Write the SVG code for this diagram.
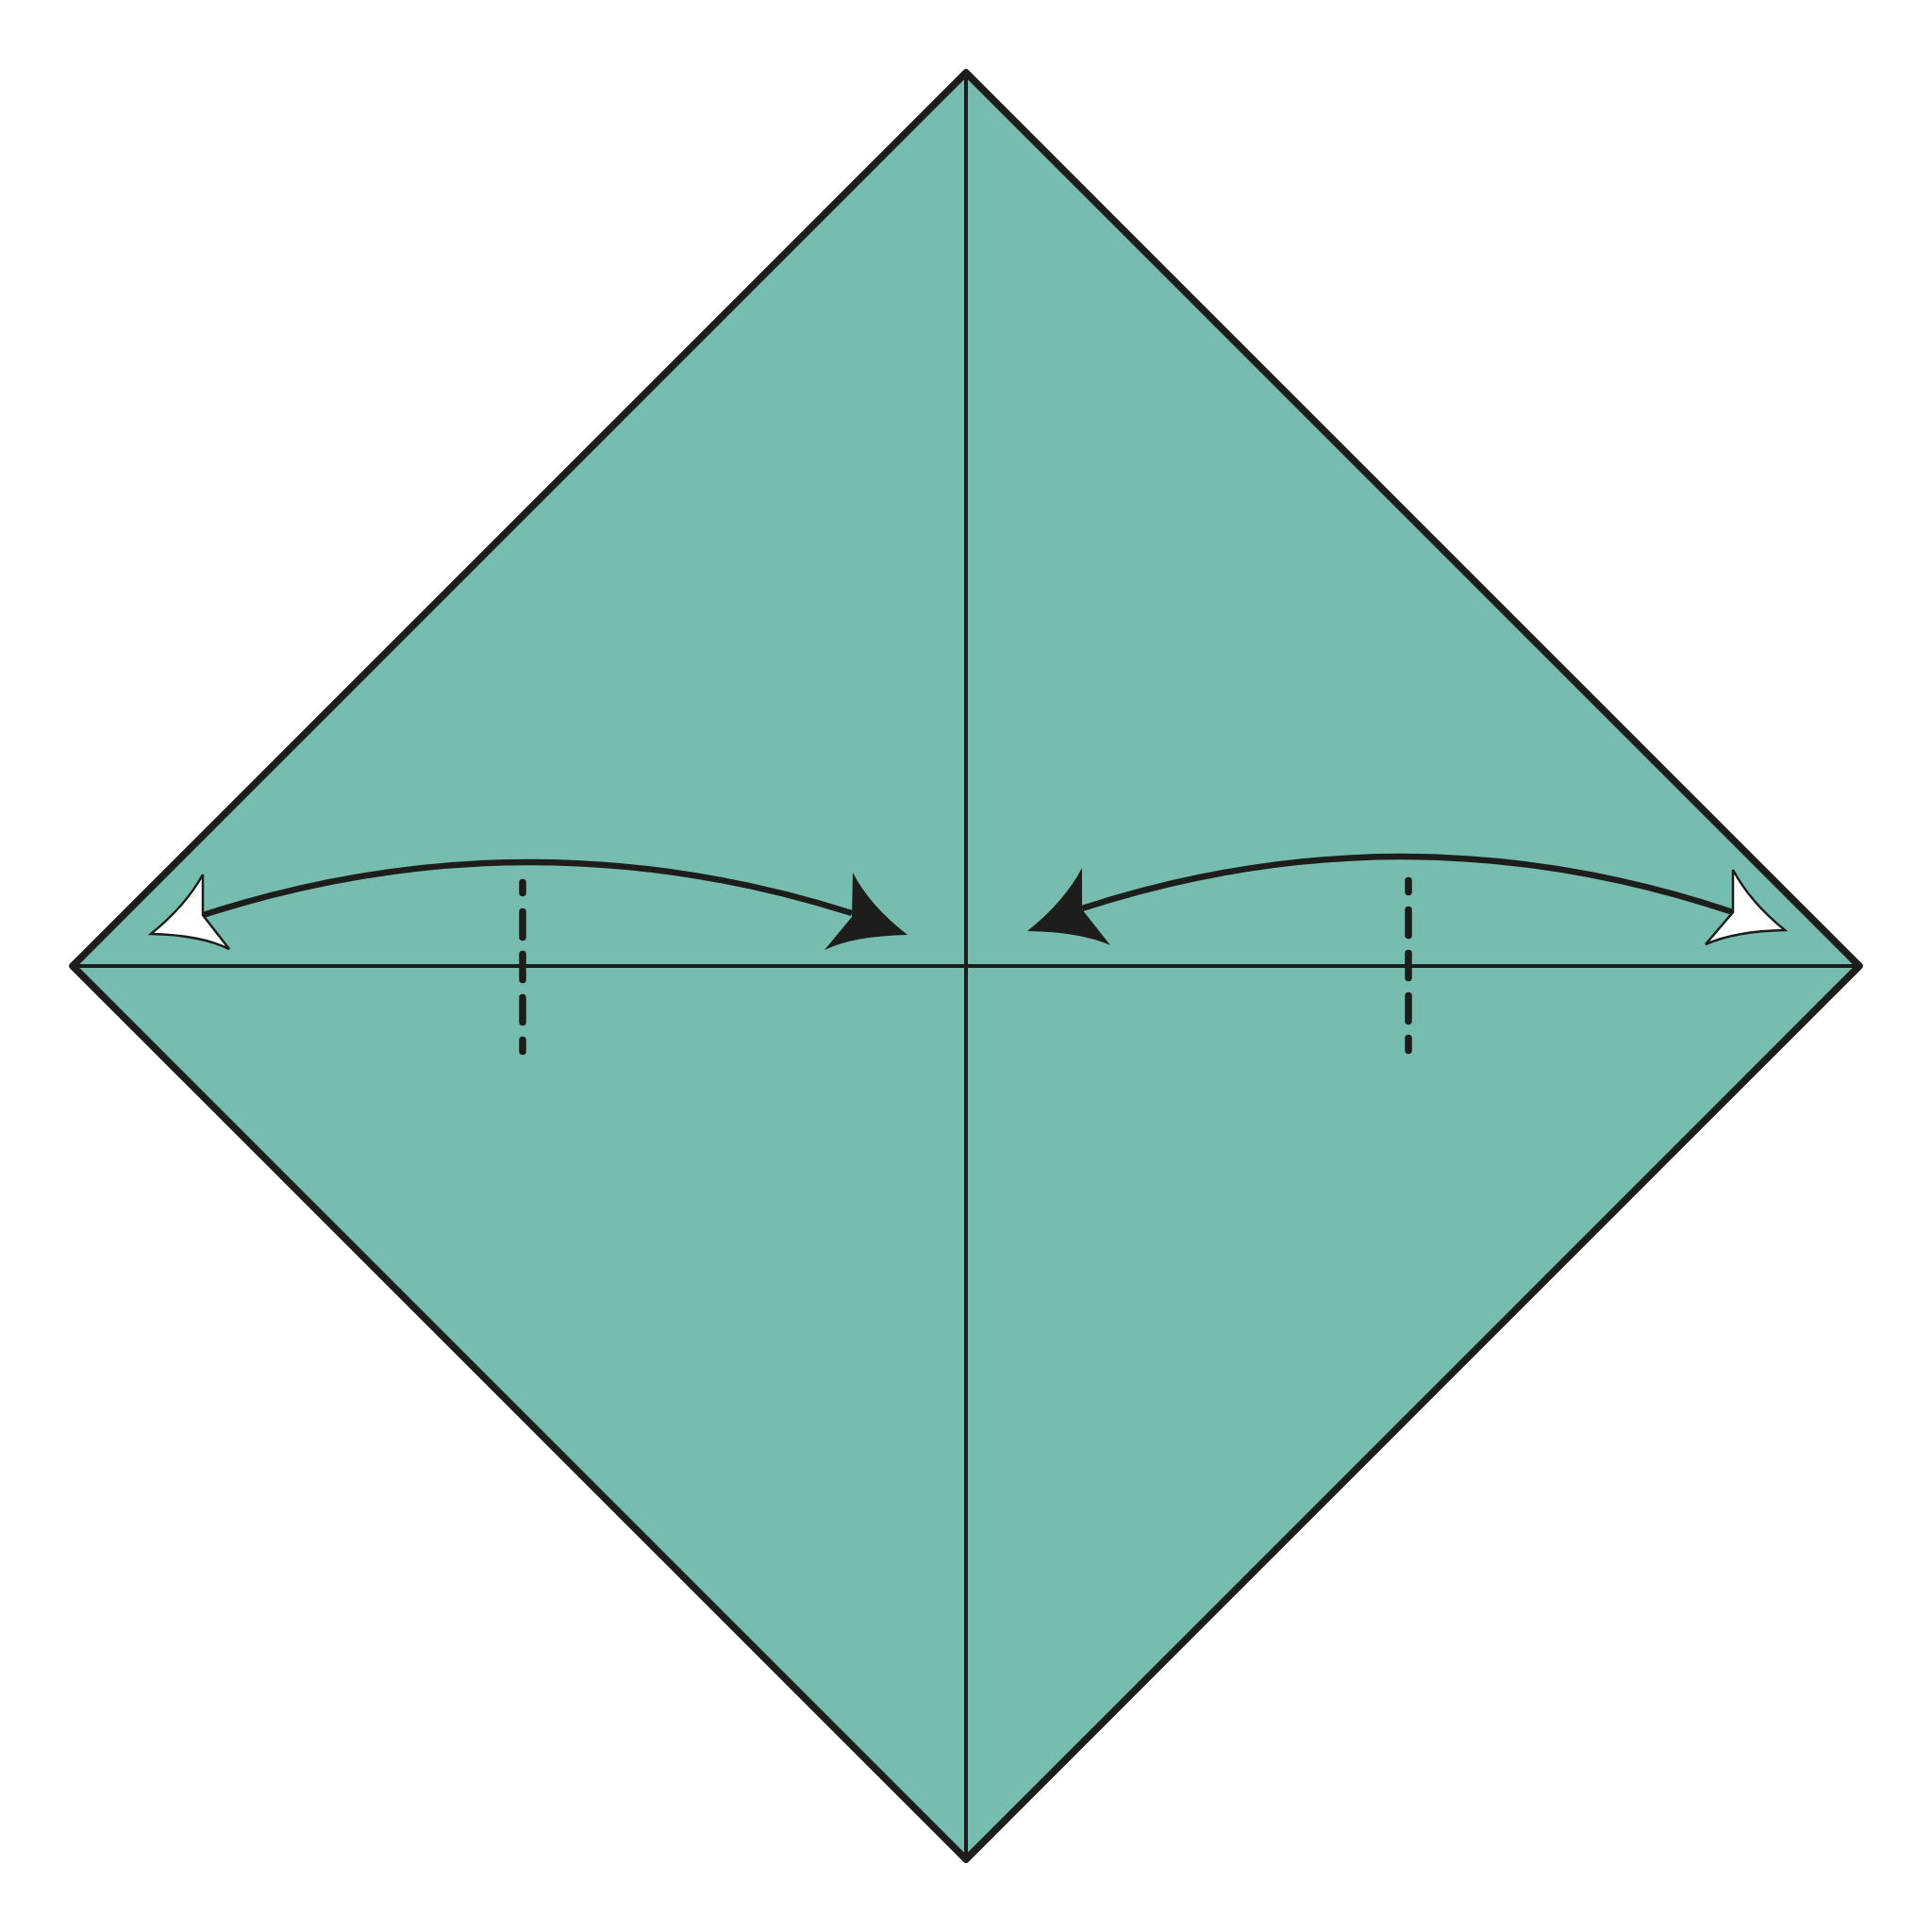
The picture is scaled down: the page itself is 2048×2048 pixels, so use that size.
<svg xmlns="http://www.w3.org/2000/svg" width="2048" height="2048" viewBox="0 0 2048 2048">
<style>
.paper{fill:#76BDAF;stroke:#1D1D1B;stroke-width:7.5;stroke-linejoin:round}
.crease{stroke:#1D1D1B;stroke-width:4;fill:none}
.arc{stroke:#1D1D1B;stroke-width:6.5;fill:none}
.valley{stroke:#1D1D1B;stroke-width:7.5;stroke-linecap:round;fill:none}
.headB{fill:#1D1D1B;stroke:none}
.headW{fill:#FFFFFF;stroke:#1D1D1B;stroke-width:2.5;stroke-linejoin:miter}
</style>
<rect width="2048" height="2048" fill="#FFFFFF"/>
<g id="paper">
<polygon class="paper" points="1024,77 1971,1024 1024,1971 77,1024"/>
<line class="crease" x1="77" y1="1024" x2="1971" y2="1024"/>
<line class="crease" x1="1024" y1="77" x2="1024" y2="1971"/>
</g>
<g id="valley-left">
<path class="valley" d="M554,935.5 L554,946.5 M554,966.5 L554,993.5 M554,1011.5 L554,1038.5 M554,1057.5 L554,1083.5 M554,1102.5 L554,1114.5"/>
</g>
<g id="valley-right">
<path class="valley" d="M1493,933.5 L1493,945.5 M1493,964.5 L1493,991.5 M1493,1010.5 L1493,1036.5 M1493,1055.5 L1493,1082.5 M1493,1100.5 L1493,1113.5"/>
</g>
<g id="connectors">
<path class="arc" d="M215,970 Q559,859 903,968"/>
<path class="arc" d="M1147,963 Q1492,851 1837,967"/>
</g>
<g id="arrowhead-left-black">
<path class="headB" d="M903,972 L904,925 Q922,960 962,991 Q905,992 874,1007 Z"/>
</g>
<g id="arrowhead-right-black">
<path class="headB" d="M1147,964 L1147,920 Q1128,956 1089,987 Q1146,988 1177,1002 Z"/>
</g>
<g id="arrowhead-left-white">
<path class="headW" d="M215,970 L215,927 Q197,960 160,990 Q212,991 243,1006 Z"/>
</g>
<g id="arrowhead-right-white">
<path class="headW" d="M1837,967 L1837,922 Q1855,956 1892,986 Q1840,987 1808,1001 Z"/>
</g>
</svg>
